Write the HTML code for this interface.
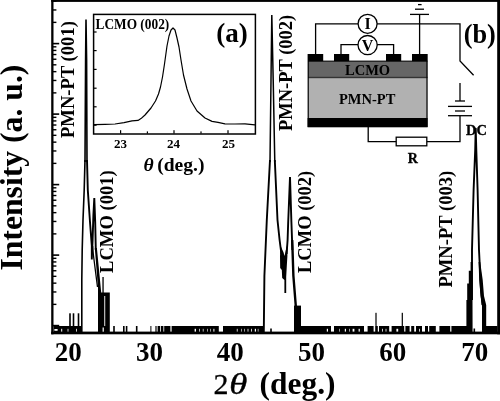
<!DOCTYPE html>
<html><head><meta charset="utf-8"><title>XRD pattern</title>
<style>html,body{margin:0;padding:0;background:#fff;}svg{display:block}text{font-family:"Liberation Serif","Times New Roman",serif;fill:#000}.b{font-weight:bold}.i{font-style:italic}</style>
</head><body>
<svg width="500" height="401" viewBox="0 0 500 401">
<rect x="0" y="0" width="500" height="401" fill="#fff"/>
<g fill="#000" stroke="none">
<rect x="51.2" y="0" width="448.8" height="1.9"/>
<rect x="51.2" y="0" width="2.3" height="334.3"/>
<rect x="497.2" y="0" width="2.8" height="334.3"/>
<rect x="51.2" y="331.6" width="448.8" height="2.7"/>
<rect x="53" y="324.80" width="6.2" height="1.6"/>
<rect x="53" y="303.68" width="3.4" height="1.4"/>
<rect x="53" y="291.26" width="3.4" height="1.4"/>
<rect x="53" y="282.45" width="3.4" height="1.4"/>
<rect x="53" y="275.62" width="3.4" height="1.4"/>
<rect x="53" y="270.04" width="3.4" height="1.4"/>
<rect x="53" y="265.32" width="3.4" height="1.4"/>
<rect x="53" y="261.23" width="3.4" height="1.4"/>
<rect x="53" y="257.63" width="3.4" height="1.4"/>
<rect x="53" y="254.30" width="6.2" height="1.6"/>
<rect x="53" y="233.18" width="3.4" height="1.4"/>
<rect x="53" y="220.76" width="3.4" height="1.4"/>
<rect x="53" y="211.95" width="3.4" height="1.4"/>
<rect x="53" y="205.12" width="3.4" height="1.4"/>
<rect x="53" y="199.54" width="3.4" height="1.4"/>
<rect x="53" y="194.82" width="3.4" height="1.4"/>
<rect x="53" y="190.73" width="3.4" height="1.4"/>
<rect x="53" y="187.13" width="3.4" height="1.4"/>
<rect x="53" y="183.80" width="6.2" height="1.6"/>
<rect x="53" y="162.68" width="3.4" height="1.4"/>
<rect x="53" y="150.26" width="3.4" height="1.4"/>
<rect x="53" y="141.45" width="3.4" height="1.4"/>
<rect x="53" y="134.62" width="3.4" height="1.4"/>
<rect x="53" y="129.04" width="3.4" height="1.4"/>
<rect x="53" y="124.32" width="3.4" height="1.4"/>
<rect x="53" y="120.23" width="3.4" height="1.4"/>
<rect x="53" y="116.63" width="3.4" height="1.4"/>
<rect x="53" y="113.30" width="6.2" height="1.6"/>
<rect x="53" y="92.18" width="3.4" height="1.4"/>
<rect x="53" y="79.76" width="3.4" height="1.4"/>
<rect x="53" y="70.95" width="3.4" height="1.4"/>
<rect x="53" y="64.12" width="3.4" height="1.4"/>
<rect x="53" y="58.54" width="3.4" height="1.4"/>
<rect x="53" y="53.82" width="3.4" height="1.4"/>
<rect x="53" y="49.73" width="3.4" height="1.4"/>
<rect x="53" y="46.13" width="3.4" height="1.4"/>
<rect x="53" y="42.80" width="6.2" height="1.6"/>
<rect x="53" y="21.68" width="3.4" height="1.4"/>
<rect x="53" y="9.26" width="3.4" height="1.4"/>
<rect x="53" y="0.45" width="3.4" height="1.4"/>
</g>
<g fill="#000" stroke="none">
<rect x="53.5" y="326" width="28.50" height="6"/>
<rect x="150.4" y="326" width="113.60" height="6"/>
<rect x="300" y="326" width="167.00" height="6"/>
<rect x="486" y="326" width="11.50" height="6"/>
<rect x="113.20" y="326" width="1.6" height="6"/>
<rect x="123.00" y="326" width="1.6" height="6"/>
<rect x="125.80" y="326" width="1.6" height="6"/>
<rect x="135.90" y="326" width="1.6" height="6"/>
<rect x="270.20" y="328.5" width="1.6" height="4"/>
<rect x="473.50" y="328.5" width="1.6" height="4"/>
<rect x="69.20" y="313.3" width="1.6" height="14"/>
<rect x="72.70" y="313.3" width="1.6" height="14"/>
<rect x="77.70" y="313.3" width="1.6" height="14"/>
<rect x="375.40" y="312.8" width="1.2" height="14"/>
<rect x="401.70" y="312.8" width="1.2" height="14"/>
</g>
<g fill="#fff" stroke="none">
<rect x="54.4" y="329" width="3.20" height="1.80"/>
<rect x="61.2" y="328.8" width="1.00" height="2.80"/>
<rect x="67.6" y="328.8" width="0.80" height="2.80"/>
<rect x="76.2" y="328.8" width="0.80" height="2.80"/>
<rect x="151.4" y="325.5" width="4.00" height="6.10"/>
<rect x="156.6" y="325.5" width="1.00" height="6.10"/>
<rect x="160.2" y="325.5" width="0.80" height="6.10"/>
<rect x="163.4" y="325.5" width="0.80" height="6.10"/>
<rect x="170.4" y="325.5" width="1.20" height="6.10"/>
<rect x="194.6" y="328.8" width="1.40" height="2.80"/>
<rect x="199.2" y="328.8" width="0.70" height="2.80"/>
<rect x="202.8" y="328.8" width="0.70" height="2.80"/>
<rect x="207.4" y="328.8" width="0.60" height="2.80"/>
<rect x="210.4" y="328.8" width="0.60" height="2.80"/>
<rect x="213.4" y="328.8" width="1.00" height="2.80"/>
<rect x="218.8" y="325.5" width="4.20" height="6.10"/>
<rect x="236.8" y="328.8" width="0.80" height="2.80"/>
<rect x="241" y="328.8" width="0.60" height="2.80"/>
<rect x="244" y="328.8" width="0.60" height="2.80"/>
<rect x="247.6" y="328.8" width="0.80" height="2.80"/>
<rect x="251.2" y="328.8" width="0.80" height="2.80"/>
<rect x="254.8" y="328.8" width="1.20" height="2.80"/>
<rect x="257.8" y="328.8" width="0.60" height="2.80"/>
<rect x="326.8" y="328.8" width="1.20" height="2.80"/>
<rect x="331" y="325.5" width="3.00" height="6.10"/>
<rect x="339.4" y="328.8" width="0.60" height="2.80"/>
<rect x="344.8" y="328.8" width="1.20" height="2.80"/>
<rect x="349" y="328.8" width="0.60" height="2.80"/>
<rect x="352.6" y="328.8" width="1.80" height="2.80"/>
<rect x="358.6" y="328.8" width="1.20" height="2.80"/>
<rect x="364" y="325.5" width="3.60" height="6.10"/>
<rect x="373.6" y="325.5" width="1.60" height="6.10"/>
<rect x="377.8" y="325.5" width="1.20" height="6.10"/>
<rect x="382" y="328.8" width="0.80" height="2.80"/>
<rect x="385.6" y="328.8" width="0.80" height="2.80"/>
<rect x="389.2" y="325.5" width="2.40" height="6.10"/>
<rect x="396.4" y="328.8" width="1.80" height="2.80"/>
<rect x="404.2" y="325.5" width="1.20" height="6.10"/>
<rect x="409.6" y="325.5" width="1.60" height="6.10"/>
<rect x="414.2" y="325.5" width="1.80" height="6.10"/>
<rect x="419" y="328.8" width="0.80" height="2.80"/>
<rect x="422" y="325.5" width="3.00" height="6.10"/>
<rect x="428" y="325.5" width="1.20" height="6.10"/>
<rect x="435.8" y="325.5" width="3.60" height="6.10"/>
<rect x="450.2" y="325.5" width="1.20" height="6.10"/>
</g>
<g fill="none" stroke="#000" stroke-width="1.9" stroke-linejoin="miter" stroke-miterlimit="10">
<polyline stroke-width="1.6" points="81.8,332 81.8,280 82.2,250 83,220 84.2,190 85,160"/>
<polyline stroke-width="1.6" points="85,162 85.6,60 86,19.5 86.6,60 87,162"/>
<polyline points="87,160 87.8,190 90,222 91.8,246 91.8,259.4 92.6,240 93.4,215 94.3,198 95.2,222 95.8,250"/>
<polyline stroke-width="1.3" points="92.6,246 93.4,255 97.5,287"/>
<polyline points="263.8,332 264.4,276 266.8,220 270,160"/>
<polyline stroke-width="1.5" points="270,162 271,80 271.8,15 273.2,80 274.8,162"/>
<polyline points="274.8,160 277.5,220 279.6,240 281.4,254"/>
<polyline points="286.6,254 287.6,240 288.2,222 290,177 291.4,222 292.4,250"/>
<polyline stroke-width="2.4" points="292.2,240 293.4,276 295.8,306"/>
<polyline points="472,300 472,250 473.6,190 475.2,150 475.7,128 476.3,150 477.6,190 479,250 481,290 482.5,305"/>
</g>
<g fill="#000" stroke="none">
<polygon points="94.8,248 96.9,248 101.2,292.6 109.8,292.6 109.8,332 98,332 98,288"/>
<rect x="102.4" y="277" width="1.3" height="17"/>
<rect x="294" y="305.6" width="7" height="27"/>
<polygon points="280.6,246 283.4,252 284.6,256 285.8,250 287.4,244 287.4,256 286.8,266 286.2,277 286.2,293 284.4,293 284.4,280 282.2,278 281.8,270 280.2,268 280,256"/>
<polygon points="472.4,262 470.6,262 470.6,270.8 468.8,270.8 468.8,283.6 467.2,283.6 467.2,300 466.4,300 466.4,332 472.6,332"/>
<polygon points="478.6,262 480.2,262 482.7,280 484,296 486.2,305 486.2,332 482,332 482,306 480.6,296 479.2,280"/>
</g>
<g fill="#fff"><rect x="104.3" y="296" width="0.9" height="30"/><rect x="102.6" y="327.5" width="1.2" height="4.2"/></g>
<g fill="none" stroke="#000">
<rect x="93.6" y="14.4" width="161.8" height="119.6" stroke-width="1.5" fill="#fff"/>
</g>
<g fill="#000" stroke="none">
<rect x="94" y="31.40" width="2.6" height="1.2"/>
<rect x="94" y="50.00" width="2.6" height="1.2"/>
<rect x="94" y="68.80" width="2.6" height="1.2"/>
<rect x="94" y="87.60" width="2.6" height="1.2"/>
<rect x="94" y="106.20" width="2.6" height="1.2"/>
<rect x="94" y="124.60" width="2.6" height="1.2"/>
<rect x="120.00" y="130.20" width="1.2" height="3.4"/>
<rect x="146.80" y="131.40" width="1.2" height="2.2"/>
<rect x="173.40" y="130.20" width="1.2" height="3.4"/>
<rect x="200.40" y="131.40" width="1.2" height="2.2"/>
<rect x="227.40" y="130.20" width="1.2" height="3.4"/>
</g>
<path fill="none" stroke="#000" stroke-width="1.2" stroke-linejoin="round" d="M94,124.6 L105,124.4 L115,124 L124,122.6 L132,120.8 L138,120.4 L141,118.6 L145,115 L151,108 L155.5,101 L158.5,94 L160.5,87 L162.5,77 L164.5,64 L167,46 L169,36 L171,30 L173,28 L175,30 L177,38 L179,47 L181,60 L183.5,75 L187,89 L191,101 L197,111 L205,118 L212,121.4 L218,122.4 L225,123.8 L235,124 L245,123.8 L255,124.8"/>
<g fill="none" stroke="#000" stroke-width="1.3">
<polyline points="315.6,54.5 315.6,23.8 358.4,23.8"/>
<polyline points="376.8,23.8 460,23.8 460,61 473.6,75.2"/>
<polyline points="341,54.5 341,44.6 358.4,44.6"/>
<polyline points="376.8,44.6 393.6,44.6 393.6,54.5"/>
<circle cx="367.6" cy="23.8" r="9.5" fill="#fff"/>
<circle cx="367.6" cy="45.1" r="9.6" fill="#fff"/>
<line x1="419.6" y1="14.4" x2="419.6" y2="54.5"/>
<line x1="410" y1="14.4" x2="429" y2="14.4"/>
<line x1="415" y1="9.2" x2="424" y2="9.2"/>
<line x1="418" y1="4.6" x2="421.6" y2="4.6"/>
<line x1="460" y1="83" x2="460" y2="101"/>
<line x1="455" y1="101" x2="465" y2="101"/>
<line x1="448" y1="106.4" x2="472" y2="106.4"/>
<line x1="455" y1="111" x2="465" y2="111"/>
<line x1="448" y1="115.7" x2="472" y2="115.7"/>
<polyline points="460,115.7 460,141.6 427,141.6"/>
<rect x="396.2" y="137.2" width="30.6" height="8.6" fill="#fff"/>
<polyline points="396.2,141.6 368.2,141.6 368.2,127"/>
</g>
<g stroke="none">
<rect x="308" y="61" width="119.4" height="17" fill="#666"/>
<rect x="308" y="78" width="119.4" height="40.4" fill="#b1b1b1"/>
<rect x="308" y="76.8" width="119.4" height="1.4" fill="#333"/>
<rect x="307.6" y="54" width="1.2" height="73" fill="#000"/>
<rect x="426.4" y="54" width="1.2" height="73" fill="#000"/>
<rect x="308" y="60.6" width="119.4" height="1.0" fill="#000"/>
<rect x="307.6" y="118" width="120" height="9.3" fill="#000"/>
<rect x="308" y="54" width="15.2" height="7.2" fill="#000"/>
<rect x="334" y="54" width="15.2" height="7.2" fill="#000"/>
<rect x="386" y="54" width="15.2" height="7.2" fill="#000"/>
<rect x="412" y="54" width="15.2" height="7.2" fill="#000"/>
</g>
<text x="68.2" y="361.2" font-size="27" class="b" text-anchor="middle">20</text>
<text x="149.4" y="361.2" font-size="27" class="b" text-anchor="middle">30</text>
<text x="230.2" y="361.2" font-size="27" class="b" text-anchor="middle">40</text>
<text x="311.4" y="361.2" font-size="27" class="b" text-anchor="middle">50</text>
<text x="392.8" y="361.2" font-size="27" class="b" text-anchor="middle">60</text>
<text x="474.8" y="361.2" font-size="27" class="b" text-anchor="middle">70</text>
<text x="213.4" y="394" font-size="30" stroke="#000" stroke-width="0.3">2</text>
<text transform="translate(229.2 394) scale(1.22 1)" x="0" y="0" font-size="30" class="i" stroke="#000" stroke-width="0.4">θ</text>
<text x="259.6" y="394" font-size="31.4" class="b">(deg.)</text>
<text x="22" y="270.6" font-size="31.7" class="b" text-anchor="start" transform="rotate(-90 22 270.6)">Intensity (a. u.)</text>
<text x="74" y="138" font-size="18.6" class="b" text-anchor="start" transform="rotate(-90 74 138)">PMN-PT (001)</text>
<text x="113" y="273" font-size="18.6" class="b" text-anchor="start" transform="rotate(-90 113 273)">LCMO (001)</text>
<text x="292" y="131" font-size="18.5" class="b" text-anchor="start" transform="rotate(-90 292 131)">PMN-PT (002)</text>
<text x="311" y="273" font-size="18.5" class="b" text-anchor="start" transform="rotate(-90 311 273)">LCMO (002)</text>
<text x="452" y="287.6" font-size="18.6" class="b" text-anchor="start" transform="rotate(-90 452 287.6)">PMN-PT (003)</text>
<text transform="translate(95.6 28.8) scale(0.895 1)" font-size="14.9" class="b">LCMO (002)</text>
<text x="216.2" y="42" font-size="27" class="b" text-anchor="start">(a)</text>
<text x="120.4" y="147.6" font-size="13" class="b" text-anchor="middle">23</text>
<text x="173.6" y="147.6" font-size="13" class="b" text-anchor="middle">24</text>
<text x="228.4" y="147.6" font-size="13" class="b" text-anchor="middle">25</text>
<text x="143.6" y="170.6" font-size="19.6"><tspan class="b i">θ</tspan><tspan class="b" dx="-1.5"> (deg.)</tspan></text>
<text x="463.7" y="43" font-size="26.3" class="b" text-anchor="start">(b)</text>
<text x="367.6" y="29.4" font-size="16" class="b" text-anchor="middle">I</text>
<text x="367.6" y="51.2" font-size="16" class="b" text-anchor="middle">V</text>
<text x="345" y="75.2" font-size="14.5" class="b" text-anchor="start">LCMO</text>
<text x="339" y="103.6" font-size="14.5" class="b" text-anchor="start">PMN-PT</text>
<text x="407.8" y="162.8" font-size="14" class="b" text-anchor="start" stroke="#000" stroke-width="0.3">R</text>
<text x="466" y="134.6" font-size="14.4" class="b" text-anchor="start" stroke="#000" stroke-width="0.35">DC</text>
</svg></body></html>
